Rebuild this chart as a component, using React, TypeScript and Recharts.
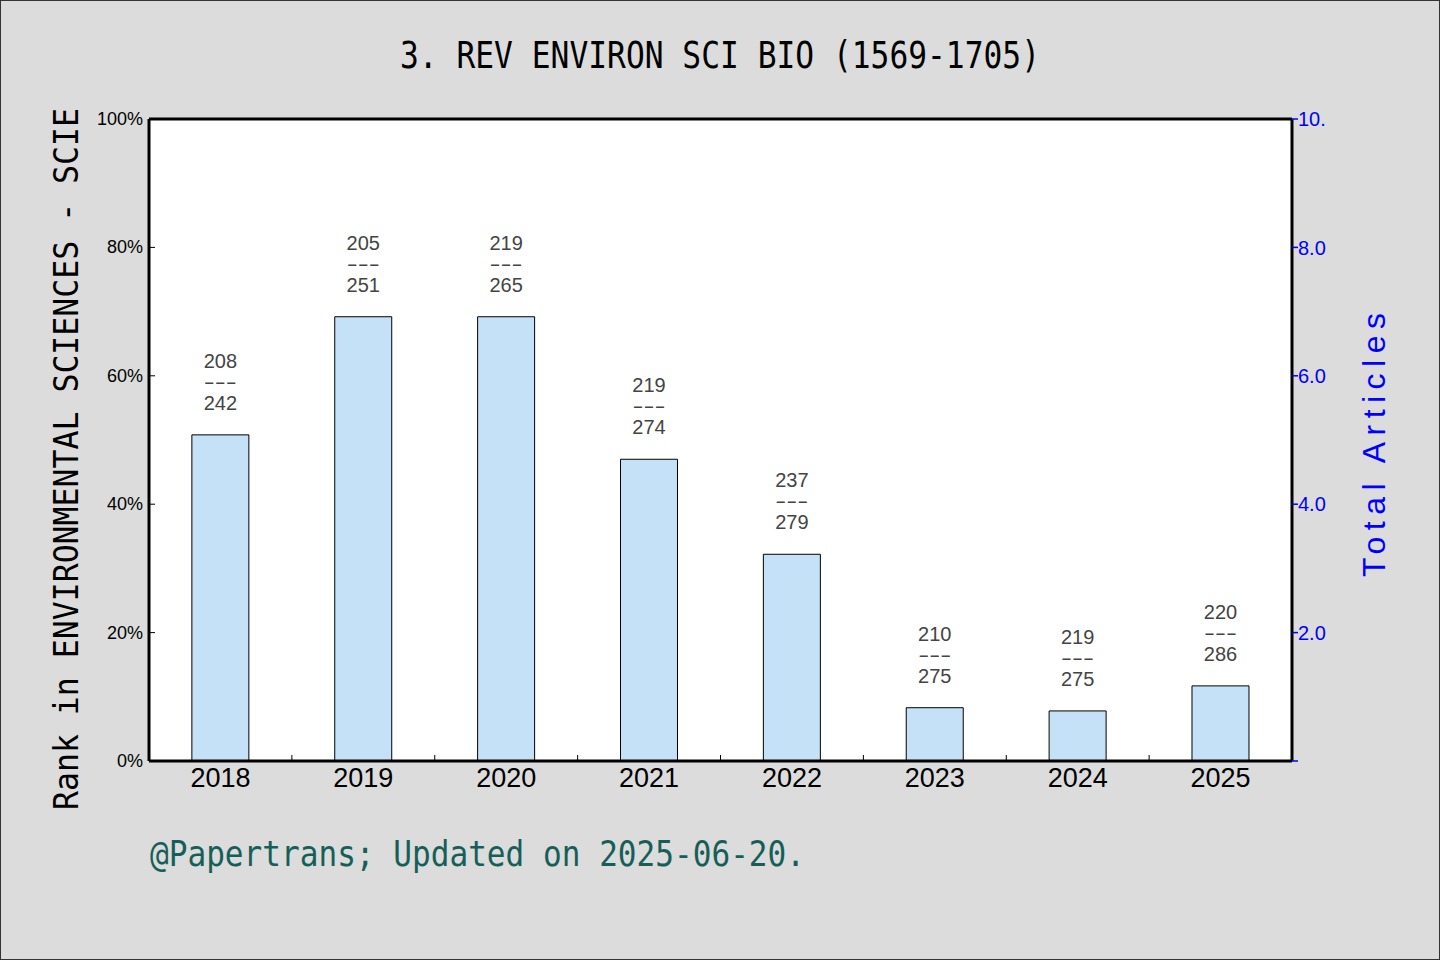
import React from "react";
import { BarChart, Bar, XAxis, YAxis, CartesianGrid, ReferenceLine, LabelList } from "recharts";

// values
const years = ["2018", "2019", "2020", "2021", "2022", "2023", "2024", "2025"];
const percentile = [50.8, 69.2, 69.2, 47.0, 32.2, 8.3, 7.8, 11.7];
const ranks = [208, 205, 219, 219, 237, 210, 219, 220];
const totals = [242, 251, 265, 274, 279, 275, 275, 286];
const leftTicks = [0, 20, 40, 60, 80, 100];
const rightTicks = [0, 2, 4, 6, 8, 10];

const W = 1440;
const H = 960;
const PLOT_LEFT = 149;
const PLOT_RIGHT = 1292;
const PLOT_TOP = 119;
const PLOT_BOTTOM = 761;
const AXIS_W = 70;
const X_AXIS_H = 40;
const STEP = (PLOT_RIGHT - PLOT_LEFT) / years.length;

const SANS = "'Liberation Sans', Arial, sans-serif";
const MONO = "'DejaVu Sans Mono', 'Liberation Mono', monospace";

const data = years.map((year, i) => ({ year, pct: percentile[i], rank: ranks[i], total: totals[i] }));

function LeftTick(props: any) {
  const { x, y, payload } = props;
  return (
    <g>
      <text x={x} y={y} dy={6} textAnchor="end" fontSize={18} fontFamily={SANS} fill="#000">
        {`${payload.value}%`}
      </text>
      <line x1={x + 7} x2={x + 12} y1={y} y2={y} stroke="#000" strokeWidth={1} />
    </g>
  );
}

function XTick(props: any) {
  const { x, y, payload, index } = props;
  return (
    <g>
      <text x={x} y={y + 26} textAnchor="middle" fontSize={27} fontFamily={SANS} fill="#000">
        {payload.value}
      </text>
      {index < years.length - 1 && (
        <line x1={x + STEP / 2} x2={x + STEP / 2} y1={y} y2={y - 6} stroke="#000" strokeWidth={1} />
      )}
    </g>
  );
}

function RankLabel(props: any) {
  const { x, y, width, index } = props;
  const cx = x + width / 2;
  const style = { fontSize: 20, fontFamily: SANS, fill: "#444" };
  return (
    <g>
      <text x={cx} y={y - 67} textAnchor="middle" {...style}>{ranks[index]}</text>
      <text x={cx} y={y - 46} textAnchor="middle" textLength={33} lengthAdjust="spacingAndGlyphs" {...style}>
        ---
      </text>
      <text x={cx} y={y - 25} textAnchor="middle" {...style}>{totals[index]}</text>
    </g>
  );
}

export default function App() {
  return (
    <div style={{ position: "fixed", left: 0, top: 0, width: W, height: H, background: "#dcdcdc" }}>
      <BarChart
        width={W}
        height={H}
        data={data}
        barCategoryGap="30%"
        margin={{
          top: PLOT_TOP,
          left: PLOT_LEFT - AXIS_W,
          right: W - PLOT_RIGHT - AXIS_W,
          bottom: H - PLOT_BOTTOM - X_AXIS_H,
        }}
      >
        <CartesianGrid fill="#ffffff" horizontal={false} vertical={false} />
        <XAxis
          dataKey="year"
          height={X_AXIS_H}
          axisLine={{ stroke: "#000", strokeWidth: 3 }}
          tickLine={false}
          tickSize={0}
          tickMargin={0}
          interval={0}
          tick={<XTick />}
        />
        <YAxis
          yAxisId="left"
          width={AXIS_W}
          type="number"
          domain={[0, 100]}
          ticks={leftTicks}
          interval={0}
          axisLine={{ stroke: "#000", strokeWidth: 3 }}
          tickLine={false}
          tickSize={0}
          tickMargin={6}
          tick={<LeftTick />}
        />
        <YAxis
          yAxisId="right"
          orientation="right"
          width={AXIS_W}
          type="number"
          domain={[0, 10]}
          ticks={rightTicks}
          interval={0}
          axisLine={{ stroke: "#000", strokeWidth: 3 }}
          tickLine={{ stroke: "#0000ff", strokeWidth: 1.5 }}
          tickSize={6}
          tickMargin={0}
          tick={{ fill: "#0000ff", fontSize: 20, fontFamily: SANS, textAnchor: "start" }}
          tickFormatter={(v: number) => (v === 0 ? "" : v === 10 ? "10." : v.toFixed(1))}
          allowDataOverflow
        />
        <ReferenceLine yAxisId="left" y={100} stroke="#000" strokeWidth={3} />
        <Bar yAxisId="left" dataKey="pct" fill="#c5e1f7" stroke="#000" strokeWidth={1} isAnimationActive={false}>
          <LabelList dataKey="pct" content={<RankLabel />} />
        </Bar>
      </BarChart>
      <svg width={W} height={H} style={{ position: "absolute", left: 0, top: 0, pointerEvents: "none" }}>
        <rect x={0.5} y={0.5} width={W - 1} height={H - 1} fill="none" stroke="#333" strokeWidth={1} />
        <text x={720} y={68} textAnchor="middle" fontSize={37} fontFamily={MONO} fill="#000" textLength={640} lengthAdjust="spacingAndGlyphs">
          3. REV ENVIRON SCI BIO (1569-1705)
        </text>
        <text
          x={0}
          y={0}
          transform="translate(78 459) rotate(-90)"
          textAnchor="middle"
          fontSize={33}
          fontFamily={MONO}
          fill="#000"
          textLength={702}
          lengthAdjust="spacingAndGlyphs"
        >
          Rank in ENVIRONMENTAL SCIENCES - SCIE
        </text>
        <text
          x={0}
          y={0}
          transform="translate(1385 445) rotate(-90)"
          textAnchor="middle"
          fontSize={32}
          fontFamily={SANS}
          fill="#0000ff"
          textLength={264}
          lengthAdjust="spacing"
        >
          Total Articles
        </text>
        <text x={150} y={866} fontSize={36} fontFamily={MONO} fill="#155f58" textLength={655} lengthAdjust="spacingAndGlyphs">
          @Papertrans; Updated on 2025-06-20.
        </text>
      </svg>
    </div>
  );
}
